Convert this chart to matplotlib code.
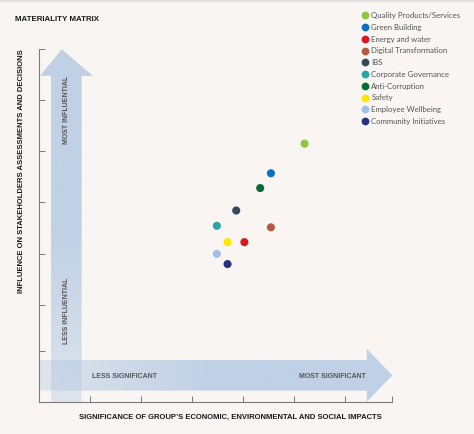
import numpy as np
import matplotlib
matplotlib.use("Agg")
import matplotlib.pyplot as plt
from matplotlib import font_manager
from matplotlib.patches import Polygon
from matplotlib.lines import Line2D

# ---- data -----------------------------------------------------------------
topics = ["Quality Products/Services", "Green Building", "Energy and water",
          "Digital Transformation", "IBS", "Corporate Governance",
          "Anti-Corruption", "Safety", "Employee Wellbeing",
          "Community Initiatives"]
significance = [5.20, 4.54, 4.02, 4.54, 3.86, 3.48, 4.33, 3.69, 3.48, 3.69]
influence = [5.07, 4.49, 3.14, 3.43, 3.76, 3.46, 4.20, 3.14, 2.91, 2.71]
colors = ["#8dc63f", "#0b6fc1", "#d7191f", "#b35a45", "#34495e",
          "#2aa6a6", "#0a6b37", "#ffe600", "#9fc0e8", "#26327e"]

x_ticks = [0, 1, 2, 3, 4, 5, 6, 6.92]
y_ticks = [0, 1.0, 1.91, 2.91, 3.92, 4.92, 5.92, 6.92]

BG = "#f8f5f2"
names = {f.name for f in font_manager.fontManager.ttflist}
if "Liberation Sans Narrow" in names:
    COND, K = ["Liberation Sans Narrow", "DejaVu Sans"], 1.22
else:
    COND, K = ["Liberation Sans", "DejaVu Sans"], 1.0

fig = plt.figure(figsize=(4.74, 4.34), dpi=100, facecolor=BG)
ax = fig.add_axes([0.0829, 0.0730, 0.7448, 0.8134], facecolor=BG)


def gradient_arrow(ax, verts, vertical):
    """Arrow polygon filled with a light-blue gradient fading at its tail."""
    poly = Polygon(verts, closed=True, facecolor="none", edgecolor="none")
    ax.add_patch(poly)
    n = 256
    t = np.linspace(0, 1, n)
    alpha = 0.33 + 0.45 * np.clip(t / 0.5, 0, 1) ** 0.8
    img = np.zeros((n, 1, 4)) if vertical else np.zeros((1, n, 4))
    rgb = np.array([176, 198, 226]) / 255.0
    if vertical:
        img[:, 0, :3] = rgb
        img[:, 0, 3] = alpha
    else:
        img[0, :, :3] = rgb
        img[0, :, 3] = alpha
    im = ax.imshow(img, extent=(0, 6.92, 0, 6.92), origin="lower",
                   aspect="auto", interpolation="bilinear", zorder=1)
    im.set_clip_path(poly)


# vertical arrow (influence)
gradient_arrow(ax, [(0.23, 0), (0.83, 0), (0.83, 6.40), (1.05, 6.40),
                    (0.44, 6.92), (0.014, 6.40), (0.23, 6.40)], vertical=True)
# horizontal arrow (significance)
gradient_arrow(ax, [(0, 0.23), (6.42, 0.23), (6.42, 0.01), (6.92, 0.53),
                    (6.42, 1.05), (6.42, 0.83), (0, 0.83)], vertical=False)
ax.set_xlim(0, 6.92)
ax.set_ylim(0, 6.92)

ax.scatter(significance, influence, s=34, c=colors, edgecolors="none",
           zorder=3, clip_on=False)

# axis dressing
for sp in ("top", "right"):
    ax.spines[sp].set_visible(False)
for sp in ("left", "bottom"):
    ax.spines[sp].set_color("#7a7a7a")
    ax.spines[sp].set_linewidth(0.8)
ax.set_xticks(x_ticks)
ax.set_yticks(y_ticks)
ax.set_xticklabels([])
ax.set_yticklabels([])
ax.tick_params(direction="in", length=4, width=0.7, color="#7a7a7a")

ax.set_xlabel("SIGNIFICANCE OF GROUP\u2019S ECONOMIC, ENVIRONMENTAL AND SOCIAL IMPACTS",
              family=COND, fontsize=5.5 * K, fontweight="bold", color="#1a1a1a")
ax.xaxis.set_label_coords(0.54, -0.032)
ax.set_ylabel("INFLUENCE ON STAKEHOLDERS ASSESSMENTS AND DECISIONS",
              family=COND, fontsize=5.5 * K, fontweight="bold", color="#1a1a1a")
ax.yaxis.set_label_coords(-0.041, 0.655)

inner = dict(family=COND, fontsize=5.0 * K, fontweight="bold",
             color="#555555", zorder=2)
ax.text(0.54, 5.74, "MOST INFLUENTIAL", rotation=90, ha="center",
        va="center", **inner)
ax.text(0.54, 1.80, "LESS INFLUENTIAL", rotation=90, ha="center",
        va="center", **inner)
ax.text(1.04, 0.50, "LESS SIGNIFICANT", ha="left", va="center", **inner)
ax.text(6.41, 0.50, "MOST SIGNIFICANT", ha="right", va="center", **inner)

fig.text(0.032, 0.956, "MATERIALITY MATRIX", family=COND, fontsize=5.7 * K,
         fontweight="bold", color="#1a1a1a", va="center")

handles = [Line2D([], [], marker="o", linestyle="none", markersize=5.6,
                  markerfacecolor=c, markeredgecolor="none") for c in colors]
ax.legend(handles, topics, loc="upper left", bbox_to_anchor=(0.763, 0.972),
          bbox_transform=fig.transFigure, frameon=False,
          prop=dict(family=["Lato", "DejaVu Sans"], size=5.6),
          labelcolor="#555555", handlelength=0.9, handletextpad=0.35,
          labelspacing=0.61, borderpad=0, borderaxespad=0)

fig.add_artist(Line2D([0, 1], [0.997, 0.997], color="#dcdcdc", lw=1.2,
                      transform=fig.transFigure))

fig.savefig("out.png", dpi=100, facecolor=BG)
